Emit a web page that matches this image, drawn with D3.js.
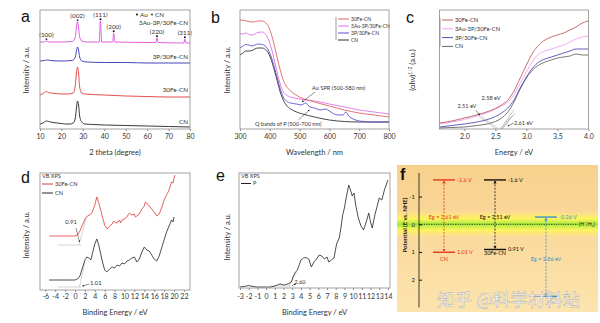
<!DOCTYPE html>
<html>
<head>
<meta charset="utf-8">
<script src="https://cdn.jsdelivr.net/npm/d3@7"></script>
<style>
body { margin: 0; background: #fff; }
svg text { font-family: Lato, "Open Sans", sans-serif; }
</style>
</head>
<body>
<svg id="fig" width="600" height="323"></svg>
<script>
// ---------- data ----------
// (a) XRD, [2theta, intensity a.u.]
var xrdCN = [[10,5],[11,5.5],[12,7],[13,8],[14,7.5],[15,7],[16,6.5],[18,6],[20,5.5],[22,5],[24,5],[25.5,6],[26.5,11],[27,21],[27.5,28],[28,24],[28.5,13],[29.5,7],[31,5],[35,4.5],[40,4],[50,3.5],[60,3],[70,2.5],[80,2]];
var xrd30Fe = [[10,34],[11,35],[12,36.5],[13,37.5],[14,36.5],[15,36],[17,35.5],[20,35],[23,35],[25.5,36],[26.5,44],[27,56],[27.5,62],[28,56],[28.5,42],[29.5,36],[31,35],[40,34],[50,33],[60,32.5],[70,32],[80,32]];
var xrd3P = [[10,68],[12,68.5],[13,69],[15,68.5],[20,68],[25,68.5],[26.5,72],[27,78],[27.5,82],[28,79],[28.5,72],[29.5,68],[32,67],[40,66.5],[50,66.5],[60,66],[70,66],[80,66]];
var xrdAu = [[10,87],[12,87],[13,88],[14,87],[20,87],[25,87.5],[26.5,92],[27,102],[27.5,107],[28,101],[28.5,92],[29.5,88],[32,87],[37.6,87],[38.2,108],[38.8,87],[43.9,87],[44.4,96],[44.9,87],[64.1,86.5],[64.6,91],[65.1,86.5],[77.1,86],[77.6,90],[78.1,86],[80,86]];
var xrdNames = ["3Au-3P/30Fe-CN", "3P/30Fe-CN", "30Fe-CN", "CN"];
var xrdLabelLevel = [104, 70, 37, 5];
var peakLabels = ["(100)", "(002)", "(111)", "(200)", "(220)", "(311)"];
var peakPos = [13, 27.5, 38.2, 44.4, 64.6, 77.6];
var peakType = ["CN", "CN", "Au", "Au", "Au", "Au"];
var xrdTicks = [10, 20, 30, 40, 50, 60, 70, 80];

// (b) UV-vis, [wavelength nm, absorbance a.u.]
var uv30Fe = [[300,109],[315,108.5],[330,107.5],[345,107],[360,108],[375,108],[385,106.5],[395,103],[405,95],[415,84],[425,71],[435,59],[445,49],[455,43],[470,38],[500,32],[550,27],[600,23],[650,19],[700,16],[750,14],[800,12]];
var uvAu = [[300,95],[310,95],[320,96],[330,94.5],[340,94],[350,95],[360,96.5],[375,97],[385,95],[395,90],[405,81],[415,69],[425,56],[435,45],[445,37],[455,34],[470,32],[500,30],[550,28],[600,25],[650,22],[700,19],[750,17],[800,15]];
var uv3P = [[300,81],[310,83],[320,84.5],[330,84],[340,83],[350,84],[360,85],[375,84.5],[385,83],[395,79],[405,72],[415,62],[425,51],[435,40],[445,32],[455,28],[470,26],[490,25],[505,24],[520,26],[535,22],[550,21],[570,19],[585,20],[595,19],[610,16],[630,14],[645,14],[655,17],[665,13],[680,10],[700,8],[750,7],[800,7]];
var uvCN = [[300,74],[310,76],[320,78],[330,78],[340,78.5],[350,80],[360,81],[375,81],[385,79.5],[395,76],[405,69],[415,59],[425,48],[435,37],[445,29],[455,24],[470,20],[490,17],[510,15],[550,12],[600,9],[650,7.5],[700,7],[800,7]];
var uvNames = ["30Fe-CN", "3Au-3P/30Fe-CN", "3P/30Fe-CN", "CN"];
var uvTicks = [300, 400, 500, 600, 700, 800];

// (c) Tauc plot, [energy eV, (ahv)^1/2]
var tauc30Fe = [[1.6,6],[1.8,8],[2.0,11],[2.2,14],[2.4,18],[2.6,24],[2.7,29],[2.8,38],[2.9,51],[3.0,64],[3.1,76],[3.2,84],[3.3,89],[3.4,92],[3.5,94],[3.6,96],[3.7,99],[3.8,102],[3.9,106],[4.0,108]];
var taucAu = [[1.6,5],[1.8,7],[2.0,9.5],[2.2,13],[2.4,17],[2.6,23],[2.7,27],[2.8,34],[2.9,46],[3.0,57],[3.1,68],[3.2,75],[3.3,78],[3.4,80],[3.5,82],[3.6,84],[3.7,87],[3.8,90],[3.9,92],[4.0,93]];
var tauc3P = [[1.6,2],[1.8,3.5],[2.0,5],[2.2,7],[2.4,10],[2.6,16],[2.7,21],[2.8,29],[2.9,41],[3.0,52],[3.1,61],[3.2,67],[3.3,70],[3.4,72],[3.5,74],[3.6,76],[3.7,78],[3.8,80],[3.9,80],[4.0,80]];
var taucCN = [[1.6,1],[1.8,1.5],[2.0,2],[2.2,3.5],[2.4,5.5],[2.6,11],[2.7,17],[2.8,27],[2.9,40],[3.0,51],[3.1,59],[3.2,64],[3.3,67],[3.4,69],[3.5,71],[3.6,72],[3.7,73],[3.8,75],[3.9,74],[4.0,74]];
var taucNames = ["30Fe-CN", "3Au-3P/30Fe-CN", "3P/30Fe-CN", "CN"];
var taucTangents = [[[2.51,0],[2.19,15]], [[2.55,0],[2.27,13]], [[2.58,0],[2.80,19]], [[2.61,0],[2.82,16]], [[2.58,0],[2.74,12]], [[2.61,0],[2.78,14]]];
var taucGapLabels = ["2.51 eV", "2.58 eV", "2.61 eV"];
var taucGapPos = [[2.04,21], [2.43,29], [2.95,4]];
var taucTicks = [2.0, 2.5, 3.0, 3.5, 4.0];

// (d) VB XPS, [binding energy eV, intensity]
var vb30Fe = [[-5.2,54],[-2,54],[0,54],[0.5,55],[1,59],[1.5,65],[2,71],[2.5,74],[3,75],[3.5,78],[4,85],[4.4,93],[4.6,90],[4.8,87],[5.2,80],[5.6,72],[6,65],[6.5,61],[7,64],[7.5,66],[7.8,69],[8,68],[8.5,67],[9,70],[9.2,67],[9.5,70],[10,71],[10.5,73],[10.8,76],[11,77],[11.5,75],[12,76],[12.2,73],[12.5,74],[13,76],[13.5,81],[14,84],[14.2,88],[14.5,87],[15,84],[15.5,81],[16,78],[16.5,74],[17,76],[17.5,82],[18,90],[18.5,95],[19,100],[19.5,108],[19.8,107],[20,112],[20.2,115]];
var vbCN = [[-5.2,10],[-2,10],[0,10],[0.5,11],[1,14],[1.5,22],[2,30],[2.4,33],[2.8,32],[3.2,30],[3.6,38],[4,46],[4.4,51],[4.8,45],[5.2,36],[5.6,27],[6,20],[6.4,18],[7,21],[7.5,23],[8,22],[8.5,25],[9,24],[9.5,27],[10,26],[10.5,29],[11,30],[11.5,32],[12,33],[12.5,28],[13,31],[13.5,38],[14,43],[14.5,40],[15,39],[15.5,35],[16,31],[16.5,29],[17,34],[17.5,42],[18,50],[18.5,58],[19,64],[19.5,70],[19.8,68],[20,73]];
var vbTicksD = [-6,-4,-2,0,2,4,6,8,10,12,14,16,18,20,22];

// (e) VB XPS of P
var vbP = [[-3,1],[-2.5,1.5],[-2,2.5],[-1.5,1.5],[-1,1],[0,1],[0.5,1],[1,2],[1.3,3],[1.6,4],[2,3],[2.3,3.5],[2.6,4.5],[2.9,6],[3.1,11],[3.3,15],[3.6,18],[3.8,23],[4,28],[4.3,30],[4.6,30.5],[4.9,29],[5.2,21],[5.5,26],[5.8,29],[6.1,33],[6.4,32],[6.7,29],[7,31],[7.2,26],[7.5,28],[7.8,30],[8.1,44],[8.4,50],[8.6,60],[8.8,73],[9,80],[9.2,90],[9.5,103],[9.7,98],[9.9,92],[10.1,95],[10.3,83],[10.6,70],[10.9,62],[11.2,58],[11.5,66],[11.8,75],[12,66],[12.2,60],[12.5,73],[12.8,83],[13,90],[13.3,88],[13.6,98],[14,108]];
var vbTicksE = [-3,-2,-1,0,1,2,3,4,5,6,7,8,9,10,11,12,13,14];

// (f) band positions, V vs NHE
var bandNames = ["CN", "30Fe-CN", "P"];
var bandCB = [-1.6, -1.6, -0.26];
var bandVB = [1.01, 0.91, 2.60];
var bandGap = [2.61, 2.51, 2.86];
var bandColors = ["#e8341c", "#111111", "#3d8fc9"];
var potTicks = [-1, 0, 1, 2];

// ---------- drawing ----------
var svg = d3.select("#fig");
svg.append("rect").attr("width", 600).attr("height", 323).attr("fill", "#fff");
var defs = svg.append("defs");

function arrowMarker(id, color) {
    defs.append("marker")
        .attr("id", id)
        .attr("viewBox", "0 0 6 6")
        .attr("refX", 5).attr("refY", 3)
        .attr("markerWidth", 4).attr("markerHeight", 4)
        .attr("orient", "auto-start-reverse")
        .append("path")
        .attr("d", "M0,0L6,3L0,6Z")
        .attr("fill", color);
}
arrowMarker("arrK", "#222");
bandColors.forEach(function(c, i) { arrowMarker("arrF" + i, c); });

function panel(l, r, t, b, xDom, yDom) {
    return {
        x: d3.scaleLinear().domain(xDom).range([l, r]),
        y: d3.scaleLinear().domain(yDom).range([b, t]),
        l: l, r: r, t: t, b: b
    };
}

function frame(p) {
    svg.append("rect")
        .attr("x", p.l).attr("y", p.t)
        .attr("width", p.r - p.l).attr("height", p.b - p.t)
        .attr("fill", "none").attr("stroke", "#8c8c8c").attr("stroke-width", 0.8);
}

function xAxis(p, ticks, fmt, pad, title, titleGap) {
    var g = svg.append("g")
        .attr("transform", "translate(0," + p.b + ")")
        .call(d3.axisBottom(p.x).tickValues(ticks).tickSize(2).tickPadding(pad)
            .tickFormat(fmt));
    g.select(".domain").remove();
    g.selectAll("line").attr("stroke", "#8c8c8c");
    g.selectAll("text").attr("fill", "#333").style("font-size", "7px")
        .style("font-family", "Lato, sans-serif");
    svg.append("text")
        .attr("x", (p.l + p.r) / 2).attr("y", p.b + titleGap)
        .attr("text-anchor", "middle").attr("fill", "#333")
        .style("font-size", "7.5px").text(title);
}

function yTitle(x, y, text) {
    return svg.append("text")
        .attr("transform", "translate(" + x + "," + y + ") rotate(-90)")
        .attr("text-anchor", "middle").attr("dy", "0.35em")
        .attr("fill", "#333").style("font-size", "7.5px").text(text);
}

function curve(p, data, color, width, smooth) {
    var line = d3.line()
        .x(function(d) { return p.x(d[0]); })
        .y(function(d) { return p.y(d[1]); });
    if (smooth) line.curve(d3.curveMonotoneX);
    svg.append("path").datum(data)
        .attr("d", line).attr("fill", "none")
        .attr("stroke", color).attr("stroke-width", width)
        .attr("stroke-linejoin", "round");
}

function seg(p, a, b, color, width, marker) {
    var l = svg.append("line")
        .attr("x1", p.x(a[0])).attr("y1", p.y(a[1]))
        .attr("x2", p.x(b[0])).attr("y2", p.y(b[1]))
        .attr("stroke", color).attr("stroke-width", width);
    if (marker) l.attr("marker-end", "url(#" + marker + ")");
}

function label(x, y, text, size, anchor, color) {
    return svg.append("text").attr("x", x).attr("y", y)
        .attr("text-anchor", anchor || "start").attr("fill", color || "#333")
        .style("font-size", size + "px").text(text);
}

function legend(x, y0, dy, names, colors, size) {
    svg.append("line").attr("x1", x - 2).attr("x2", x - 2)
        .attr("y1", y0 - 2).attr("y2", y0 + dy * (names.length - 1))
        .attr("stroke", "#555").attr("stroke-width", 0.6);
    names.forEach(function(n, i) {
        svg.append("line").attr("x1", x).attr("x2", x + 11)
            .attr("y1", y0 + i * dy).attr("y2", y0 + i * dy)
            .attr("stroke", colors[i]).attr("stroke-width", 1);
        label(x + 13, y0 + i * dy, n, size).attr("dy", "0.35em");
    });
}

function letter(x, y, t, bold) {
    svg.append("text").attr("x", x).attr("y", y)
        .style("font-family", "'Liberation Sans', Arial, sans-serif")
        .style("font-size", "16px").style("font-weight", bold ? "bold" : "normal")
        .attr("fill", "#111").text(t);
}
var plain = function(d) { return String(d); };

// ---- (a) ----
var pa = panel(40, 190, 10, 129, [10, 80], [0, 119]);
var xrdColors = ["#dc4fdc", "#3232b0", "#e03a3a", "#222"];
[xrdAu, xrd3P, xrd30Fe, xrdCN].forEach(function(s, i) { curve(pa, s, xrdColors[i], 0.9, true); });
xrdNames.forEach(function(n, i) { label(188, pa.y(xrdLabelLevel[i]), n, 6.3, "end"); });
peakPos.forEach(function(t, i) {
    var top = xrdAu.find(function(d) { return d[0] === t; })[1];
    var yy = pa.y(top);
    svg.append("circle").attr("cx", pa.x(t)).attr("cy", yy - 1.8).attr("r", 1)
        .attr("fill", peakType[i] === "Au" ? "#111" : "#444");
    label(pa.x(t), yy - 4.5, peakLabels[i], 6.3, "middle");
});
svg.append("circle").attr("cx", 137).attr("cy", 14.5).attr("r", 1).attr("fill", "#111");
label(140, 16.8, "Au", 6.3);
svg.append("circle").attr("cx", 152).attr("cy", 14.5).attr("r", 1).attr("fill", "#444");
label(155, 16.8, "CN", 6.3);
frame(pa);
xAxis(pa, xrdTicks, plain, 3.5, "2 theta (degree)", 25.5);
yTitle(26, 70, "Intensity / a.u.");
letter(21, 22, "a");

// ---- (b) ----
var pb = panel(240, 389, 10, 129, [300, 800], [0, 119]);
var uvColors = ["#e06464", "#e070e8", "#5a4fcf", "#333"];
[uvCN, uv3P, uvAu, uv30Fe].forEach(function(s, i) { curve(pb, s, uvColors[3 - i], 0.9, true); });
legend(338, 19, 7, uvNames, uvColors, 5);
label(pb.x(542), pb.y(38) - 1, "Au SPR (500-580 nm)", 5.6);
seg(pb, [552, 37], [508, 27], "#222", 0.5, "arrK");
label(pb.x(350), pb.y(3), "Q bands of P (500-700 nm)", 5.6);
seg(pb, [496, 9], [533, 19], "#222", 0.5, "arrK");
frame(pb);
xAxis(pb, uvTicks, plain, 3.5, "Wavelength / nm", 25.5);
yTitle(227, 70, "Intensity / a.u.");
letter(211, 23, "b");

// ---- (c) ----
var pc = panel(439.5, 588.5, 10, 129, [1.6, 4.0], [0, 119]);
var taucColors = ["#c0605a", "#f0a0f0", "#5050b0", "#666"];
taucTangents.forEach(function(t) { seg(pc, t[0], t[1], "#9a9a9a", 0.5); });
[taucCN, tauc3P, taucAu, tauc30Fe].forEach(function(s, i) { curve(pc, s, taucColors[3 - i], 0.9, true); });
legend(442, 20, 8.8, taucNames, taucColors, 5.8);
taucGapLabels.forEach(function(t, i) {
    label(pc.x(taucGapPos[i][0]), pc.y(taucGapPos[i][1]), t, 5.6, "middle");
});
seg(pc, [2.18, 19], [2.25, 14], "#222", 0.5, "arrK");
seg(pc, [2.80, 6], [2.70, 3], "#222", 0.5, "arrK");
frame(pc);
xAxis(pc, taucTicks, d3.format(".1f"), 3.5, "Energy / eV", 25.5);
var ct = yTitle(412, 70, "");
ct.append("tspan").text("(\u03b1h\u03bd)");
ct.append("tspan").attr("dy", "-2.5").style("font-size", "5px").text("1/2");
ct.append("tspan").attr("dy", "2.5").text(" (a.u.)");
letter(406, 23, "c");

// ---- (d) ----
var pd = panel(40, 190, 173, 290, [-7.07, 23.23], [0, 117]);
seg(pd, [-3.5, 45], [1.2, 45], "#aaa", 0.5);
seg(pd, [0.8, 45], [2.3, 73], "#aaa", 0.5);
seg(pd, [-3.5, 3], [1.2, 3], "#aaa", 0.5);
seg(pd, [0.9, 3], [2.0, 28], "#aaa", 0.5);
curve(pd, vb30Fe, "#e03a3a", 0.8, false);
curve(pd, vbCN, "#222", 0.8, false);
label(pd.x(-0.8), pd.y(66), "0.91", 5.8, "middle");
seg(pd, [0.2, 62], [0.9, 48], "#222", 0.5, "arrK");
label(pd.x(4.2), pd.y(5), "1.01", 5.8, "middle");
seg(pd, [2.9, 6], [1.5, 4], "#222", 0.5, "arrK");
label(42, 177.5, "VB XPS", 5.6);
svg.append("line").attr("x1", 42).attr("x2", 53).attr("y1", 184).attr("y2", 184).attr("stroke", "#e03a3a").attr("stroke-width", 1);
label(55, 184, "30Fe-CN", 5.6).attr("dy", "0.35em");
svg.append("line").attr("x1", 42).attr("x2", 53).attr("y1", 193).attr("y2", 193).attr("stroke", "#222").attr("stroke-width", 1);
label(55, 193, "CN", 5.6).attr("dy", "0.35em");
frame(pd);
xAxis(pd, vbTicksD, plain, 2.5, "Binding Energy / eV", 24.5);
yTitle(26, 235, "Intensity / a.u.");
letter(21, 183, "d");

// ---- (e) ----
var pe = panel(239, 390, 173, 288, [-3.115, 14.24], [0, 115]);
seg(pe, [0.5, 2], [3.2, 2], "#aaa", 0.5);
seg(pe, [2.6, 2], [3.5, 16], "#aaa", 0.5);
curve(pe, vbP, "#222", 0.8, false);
label(pe.x(3.9), pe.y(4), "2.60", 5.6, "middle");
seg(pe, [3.0, 2.5], [3.4, 4], "#222", 0.5, "arrK");
label(241, 177.5, "VB XPS", 5.6);
svg.append("line").attr("x1", 241).attr("x2", 251).attr("y1", 183.5).attr("y2", 183.5).attr("stroke", "#222").attr("stroke-width", 1);
label(253, 183.5, "P", 5.6).attr("dy", "0.35em");
frame(pe);
xAxis(pe, vbTicksE, plain, 4.5, "Binding Energy / eV", 26.5);
yTitle(227, 237, "Intensity / a.u.");
letter(216, 181, "e");

// ---- (f) ----
var pot = d3.scaleLinear().domain([-1.85, 3.0]).range([173, 307.4]);
var bx = d3.scalePoint().domain(bandNames).range([444, 546]);
var bg = defs.append("linearGradient").attr("id", "fbg").attr("x1", 0).attr("x2", 0).attr("y1", 0).attr("y2", 1);
bg.append("stop").attr("offset", "0%").attr("stop-color", "#f8d08c");
bg.append("stop").attr("offset", "100%").attr("stop-color", "#fce4ae");
svg.append("rect").attr("x", 397).attr("y", 165).attr("width", 201).attr("height", 147).attr("fill", "url(#fbg)");
var band = defs.append("linearGradient").attr("id", "fband").attr("x1", 0).attr("x2", 0).attr("y1", 0).attr("y2", 1);
[["0%", "#fff36a", 0], ["28%", "#fdf35c", 1], ["44%", "#c2ef4a", 1], ["50%", "#9be43a", 1], ["56%", "#c2ef4a", 1], ["72%", "#fdf35c", 1], ["100%", "#fff36a", 0]]
    .forEach(function(s) {
        band.append("stop").attr("offset", s[0]).attr("stop-color", s[1]).attr("stop-opacity", s[2]);
    });
svg.append("rect").attr("x", 397).attr("y", pot(0) - 13).attr("width", 201).attr("height", 26).attr("fill", "url(#fband)");
svg.append("line").attr("x1", 419).attr("x2", 578).attr("y1", pot(0)).attr("y2", pot(0))
    .attr("stroke", "#111").attr("stroke-width", 0.8).attr("stroke-dasharray", "1.2,1.2");
label(579, pot(0), "(H\u207a/H\u2082)", 5, "start", "#111").attr("dy", "0.35em");

var fa = svg.append("g").attr("transform", "translate(419,0)")
    .call(d3.axisLeft(pot).tickValues(potTicks).tickSize(-3).tickPadding(4).tickFormat(plain));
fa.select(".domain").remove();
fa.selectAll("line").attr("stroke", "#111");
fa.selectAll("text").attr("fill", "#222").style("font-size", "6px");
svg.append("line").attr("x1", 419).attr("x2", 419).attr("y1", 173).attr("y2", 307.4)
    .attr("stroke", "#111").attr("stroke-width", 0.8);
svg.append("text").attr("transform", "translate(405,225) rotate(-90)")
    .attr("text-anchor", "middle").attr("dy", "0.35em").attr("fill", "#222")
    .style("font-size", "6px").style("font-weight", "bold").text("Potential (E vs. NHE)");

var gapLevel = [-0.25, -0.25, 1.25];
var nameLevel = [1.25, 1.04, null];
bandNames.forEach(function(n, i) {
    var cx = bx(n), c = bandColors[i];
    svg.append("line").attr("x1", cx).attr("x2", cx)
        .attr("y1", pot(bandCB[i]) + 1).attr("y2", pot(bandVB[i]) - 1)
        .attr("stroke", c).attr("stroke-width", 0.8).attr("stroke-dasharray", "2,1.4")
        .attr("marker-start", "url(#arrF" + i + ")").attr("marker-end", "url(#arrF" + i + ")");
    [bandCB[i], bandVB[i]].forEach(function(v) {
        svg.append("line").attr("x1", cx - 11).attr("x2", cx + 11)
            .attr("y1", pot(v)).attr("y2", pot(v))
            .attr("stroke", c).attr("stroke-width", 1.4);
    });
    label(cx + 13, pot(bandCB[i]), (bandCB[i] === -1.6 ? "-1.6" : String(bandCB[i])) + " V", 5.5, "start", c).attr("dy", "0.35em");
    if (i < 2) label(cx + 13, pot(bandVB[i]), bandVB[i].toFixed(2) + " V", 5.5, "start", c).attr("dy", "0.35em");
    label(cx, pot(gapLevel[i]), "Eg = " + bandGap[i].toFixed(2) + " eV", 5.5, "middle", c).attr("dy", "0.35em");
    if (nameLevel[i] !== null) label(cx, pot(nameLevel[i]), n, 5.5, "middle", c).attr("dy", "0.35em");
});
letter(400, 180, "f", true);

// watermark
svg.append("text").attr("x", 437).attr("y", 306)
    .style("font-family", "'Noto Sans CJK SC', sans-serif").style("font-size", "17.5px")
    .attr("fill", "#fff").attr("fill-opacity", 0.9)
    .attr("stroke", "#a8a8a8").attr("stroke-width", 0.4)
    .text("知乎 @科学材料站");
</script>
</body>
</html>
